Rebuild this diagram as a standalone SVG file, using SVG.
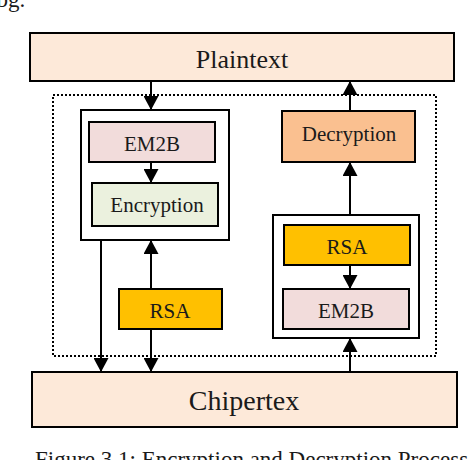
<svg xmlns="http://www.w3.org/2000/svg" width="474" height="460" viewBox="0 0 474 460">
<defs>
<marker id="ah" viewBox="0 0 14 15" refX="14" refY="7.5" markerWidth="14" markerHeight="15" markerUnits="userSpaceOnUse" orient="auto">
<path d="M0,0 L14,7.5 L0,15 Z" fill="#000"/>
</marker>
</defs>
<rect width="474" height="460" fill="#fff"/>
<g font-family="Liberation Serif" fill="#1a1a1a" text-anchor="middle">
<text x="-3.5" y="6.5" font-size="23" text-anchor="start">bg.</text>
<rect x="53" y="95" width="383" height="261" fill="none" stroke="#000" stroke-width="2" stroke-dasharray="2,2"/>
<g id="plaintext"><rect stroke="#000" stroke-width="2" x="30" y="33" width="424" height="48" fill="#FDE9D9"/><text x="242" y="68" font-size="26">Plaintext</text></g>
<g id="chipertex"><rect stroke="#000" stroke-width="2" x="32" y="372" width="425" height="55" fill="#FDE9D9"/><text x="244" y="410" font-size="28">Chipertex</text></g>
<g id="enc-group"><rect stroke="#000" stroke-width="2" x="81" y="110" width="148" height="130" fill="#fff"/></g>
<g id="em2b-left"><rect stroke="#000" stroke-width="2" x="89" y="122" width="126" height="40" fill="#F2DCDB"/><text x="152" y="151" font-size="21">EM2B</text></g>
<g id="encryption"><rect stroke="#000" stroke-width="2" x="92" y="183" width="126" height="43" fill="#EBF1DE"/><text x="157" y="212" font-size="21">Encryption</text></g>
<g id="rsa-left"><rect stroke="#000" stroke-width="2" x="119" y="289" width="103" height="40" fill="#FFC000"/><text x="170" y="318" font-size="21">RSA</text></g>
<g id="decryption"><rect stroke="#000" stroke-width="2" x="282" y="111" width="133" height="51" fill="#FAC090"/><text x="349" y="141" font-size="21">Decryption</text></g>
<g id="dec-group"><rect stroke="#000" stroke-width="2" x="273" y="215" width="146" height="123" fill="#fff"/></g>
<g id="rsa-right"><rect stroke="#000" stroke-width="2" x="284" y="225" width="126" height="40" fill="#FFC000"/><text x="347" y="254" font-size="21">RSA</text></g>
<g id="em2b-right"><rect stroke="#000" stroke-width="2" x="283" y="289" width="126" height="40" fill="#F2DCDB"/><text x="346" y="318" font-size="21">EM2B</text></g>
<g id="connectors" stroke="#000" stroke-width="2" fill="none">
<line x1="151" y1="81" x2="151" y2="110" marker-end="url(#ah)"/>
<line x1="151" y1="162" x2="151" y2="183" marker-end="url(#ah)"/>
<line x1="151" y1="289" x2="151" y2="240" marker-end="url(#ah)"/>
<line x1="151" y1="329" x2="151" y2="372" marker-end="url(#ah)"/>
<line x1="101" y1="240" x2="101" y2="372" marker-end="url(#ah)"/>
<line x1="350" y1="111" x2="350" y2="81" marker-end="url(#ah)"/>
<line x1="350" y1="215" x2="350" y2="162" marker-end="url(#ah)"/>
<line x1="350" y1="265" x2="350" y2="289" marker-end="url(#ah)"/>
<line x1="350" y1="372" x2="350" y2="338" marker-end="url(#ah)"/>
</g>
<text x="35" y="467" font-size="23" text-anchor="start">Figure 3.1: Encryption and Decryption Process</text>
</g>
</svg>
